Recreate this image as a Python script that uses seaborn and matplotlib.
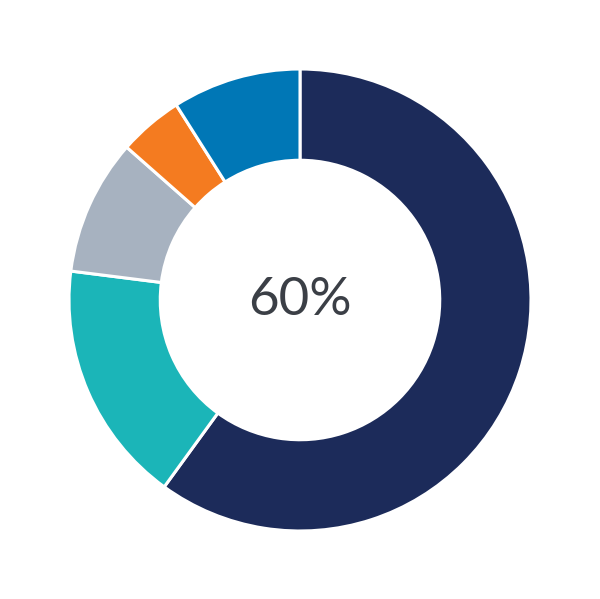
import matplotlib
matplotlib.use('Agg')
import matplotlib.pyplot as plt
import seaborn as sns

# donut data, clockwise from top
labels = ['Navy', 'Teal', 'Gray', 'Orange', 'Blue']
shares = [60, 17, 9.5, 4.5, 9]
colors = ['#1c2b5a', '#1bb5b8', '#a7b2c0', '#f47b20', '#0077b6']
center_text = '60%'

sns.set_style('white')

fig = plt.figure(figsize=(6, 5.99), dpi=100)
ax = fig.add_axes([0, 0, 1, 1])
ax.pie(shares, colors=colors, startangle=90, counterclock=False,
       radius=1, wedgeprops=dict(width=0.395, edgecolor='white', linewidth=2.2))
ax.text(0, 0, center_text, ha='center', va='center', fontsize=38,
        family='Lato', fontweight='normal', color='#3b3f46')
r = 300 / 231
ax.set_xlim(-r, r)
ax.set_ylim(-299 / 231, 300 / 231)
ax.set_aspect('equal')
ax.axis('off')

fig.savefig('out.png', dpi=100, facecolor='white')
